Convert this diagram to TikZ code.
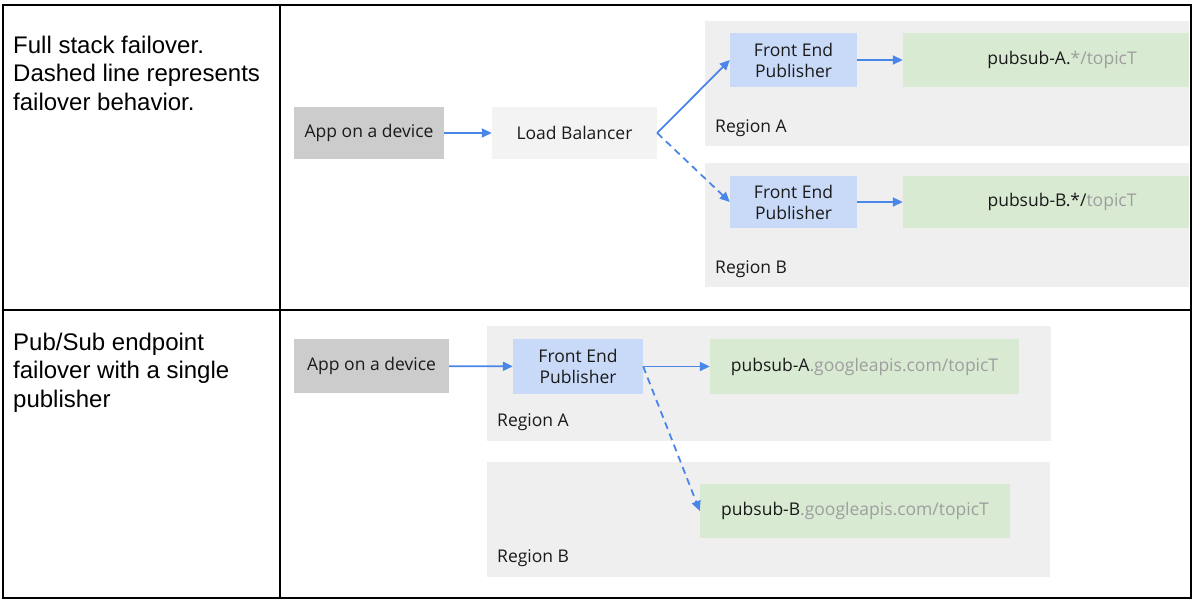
\documentclass[tikz,border=0pt]{standalone}
\usepackage{fontspec}
\setmainfont{Open Sans}
\newfontfamily\cellafont{Liberation Sans}
\usetikzlibrary{arrows.meta}

\definecolor{freccia}{HTML}{4A86E8}
\definecolor{app}{HTML}{CCCCCC}
\definecolor{bilanc}{HTML}{F3F3F3}
\definecolor{regione}{HTML}{EFEFEF}
\definecolor{fep}{HTML}{C9DAF8}
\definecolor{pubsub}{HTML}{D9EAD3}
\definecolor{testo}{HTML}{1A1A1A}
\definecolor{chiaro}{HTML}{9E9E9E}

\begin{document}
\begin{tikzpicture}[x=1pt, y=-1pt, >={Stealth[inset=0pt, length=10pt, width=9pt]},
  scatola/.style={inner sep=0pt, text=testo, align=center,
    font=\fontsize{17.5}{21}\selectfont},
  zona/.style={fill=regione, inner sep=0pt, anchor=north west},
  etichetta/.style={inner sep=0pt, anchor=west, text=testo,
    font=\fontsize{17.5}{21}\selectfont},
  cella/.style={inner sep=0pt, anchor=north west, align=left,
    font=\cellafont\fontsize{24}{28.5}\selectfont},
  collega/.style={->, freccia, line width=1.8pt},
  guasto/.style={collega, dash pattern=on 7pt off 5pt}]

\useasboundingbox (0,0) rectangle (1200,601);

% Tabella
\draw[line width=1.5pt] (3,5) rectangle (1191,598);
\draw[line width=1.2pt] (280,5) -- (280,598);
\draw[line width=1.2pt] (3,310) -- (1191,310);

% Testi della prima colonna
\node[cella] (desc1) at (13,35.5) {Full stack failover.\\Dashed line represents\\failover behavior.};
\node[cella] (desc2) at (13,332.5) {Pub/Sub endpoint\\failover with a single\\publisher};

% Prima riga: regioni
\node[zona, minimum width=484pt, minimum height=125pt] (regA1) at (705,21) {};
\node[zona, minimum width=484pt, minimum height=124pt] (regB1) at (705,163) {};
\node[etichetta] (labA1) at (715,128) {Region A};
\node[etichetta] (labB1) at (715,269) {Region B};

% Prima riga: blocchi
\node[scatola, fill=app, minimum width=150pt, minimum height=52pt] (app1) at (369,133) {App on a device};
\node[scatola, fill=bilanc, minimum width=165pt, minimum height=52pt] (lb) at (574.5,133) {Load Balancer};
\node[scatola, fill=fep, minimum width=127pt, minimum height=54pt] (fepA1) at (793.5,60) {Front End\\Publisher};
\node[scatola, fill=fep, minimum width=127pt, minimum height=52pt] (fepB1) at (793.5,202) {Front End\\Publisher};
\node[scatola, fill=pubsub, minimum width=286pt, minimum height=54pt] (psA1) at (1046,60) {};
\node[scatola, fill=pubsub, minimum width=286pt, minimum height=52pt] (psB1) at (1046,202) {};
\node[scatola, xshift=16pt] (psA1t) at (psA1) {pubsub-A.\textcolor{chiaro}{*/topicT}};
\node[scatola, xshift=16pt] (psB1t) at (psB1) {pubsub-B.*/\textcolor{chiaro}{topicT}};

% Prima riga: frecce
\draw[collega] (app1) -- (lb);
\draw[collega] (lb.east) -- (fepA1.west);
\draw[guasto] (lb.east) -- (fepB1.west);
\draw[collega] (fepA1) -- (psA1);
\draw[collega] (fepB1) -- (psB1);

% Seconda riga: regioni
\node[zona, minimum width=564pt, minimum height=115pt] (regA2) at (487,326) {};
\node[zona, minimum width=563pt, minimum height=115pt] (regB2) at (487,462) {};
\node[etichetta] (labA2) at (497,422) {Region A};
\node[etichetta] (labB2) at (497,558) {Region B};

% Seconda riga: blocchi
\node[scatola, fill=app, minimum width=155pt, minimum height=54pt] (app2) at (371.5,366) {App on a device};
\node[scatola, fill=fep, minimum width=130pt, minimum height=55pt] (fep2) at (578,366.5) {Front End\\Publisher};
\node[scatola, fill=pubsub, minimum width=309pt, minimum height=55pt] (psA2) at (864.5,366.5) {pubsub-A\textcolor{chiaro}{.googleapis.com/topicT}};
\node[scatola, fill=pubsub, minimum width=310pt, minimum height=54pt] (psB2) at (855,511) {pubsub-B\textcolor{chiaro}{.googleapis.com/topicT}};

% Seconda riga: frecce
\draw[collega] (app2) -- (fep2);
\draw[collega] (fep2) -- (psA2);
\draw[guasto] (fep2.east) -- (psB2.west);

\end{tikzpicture}
\end{document}
